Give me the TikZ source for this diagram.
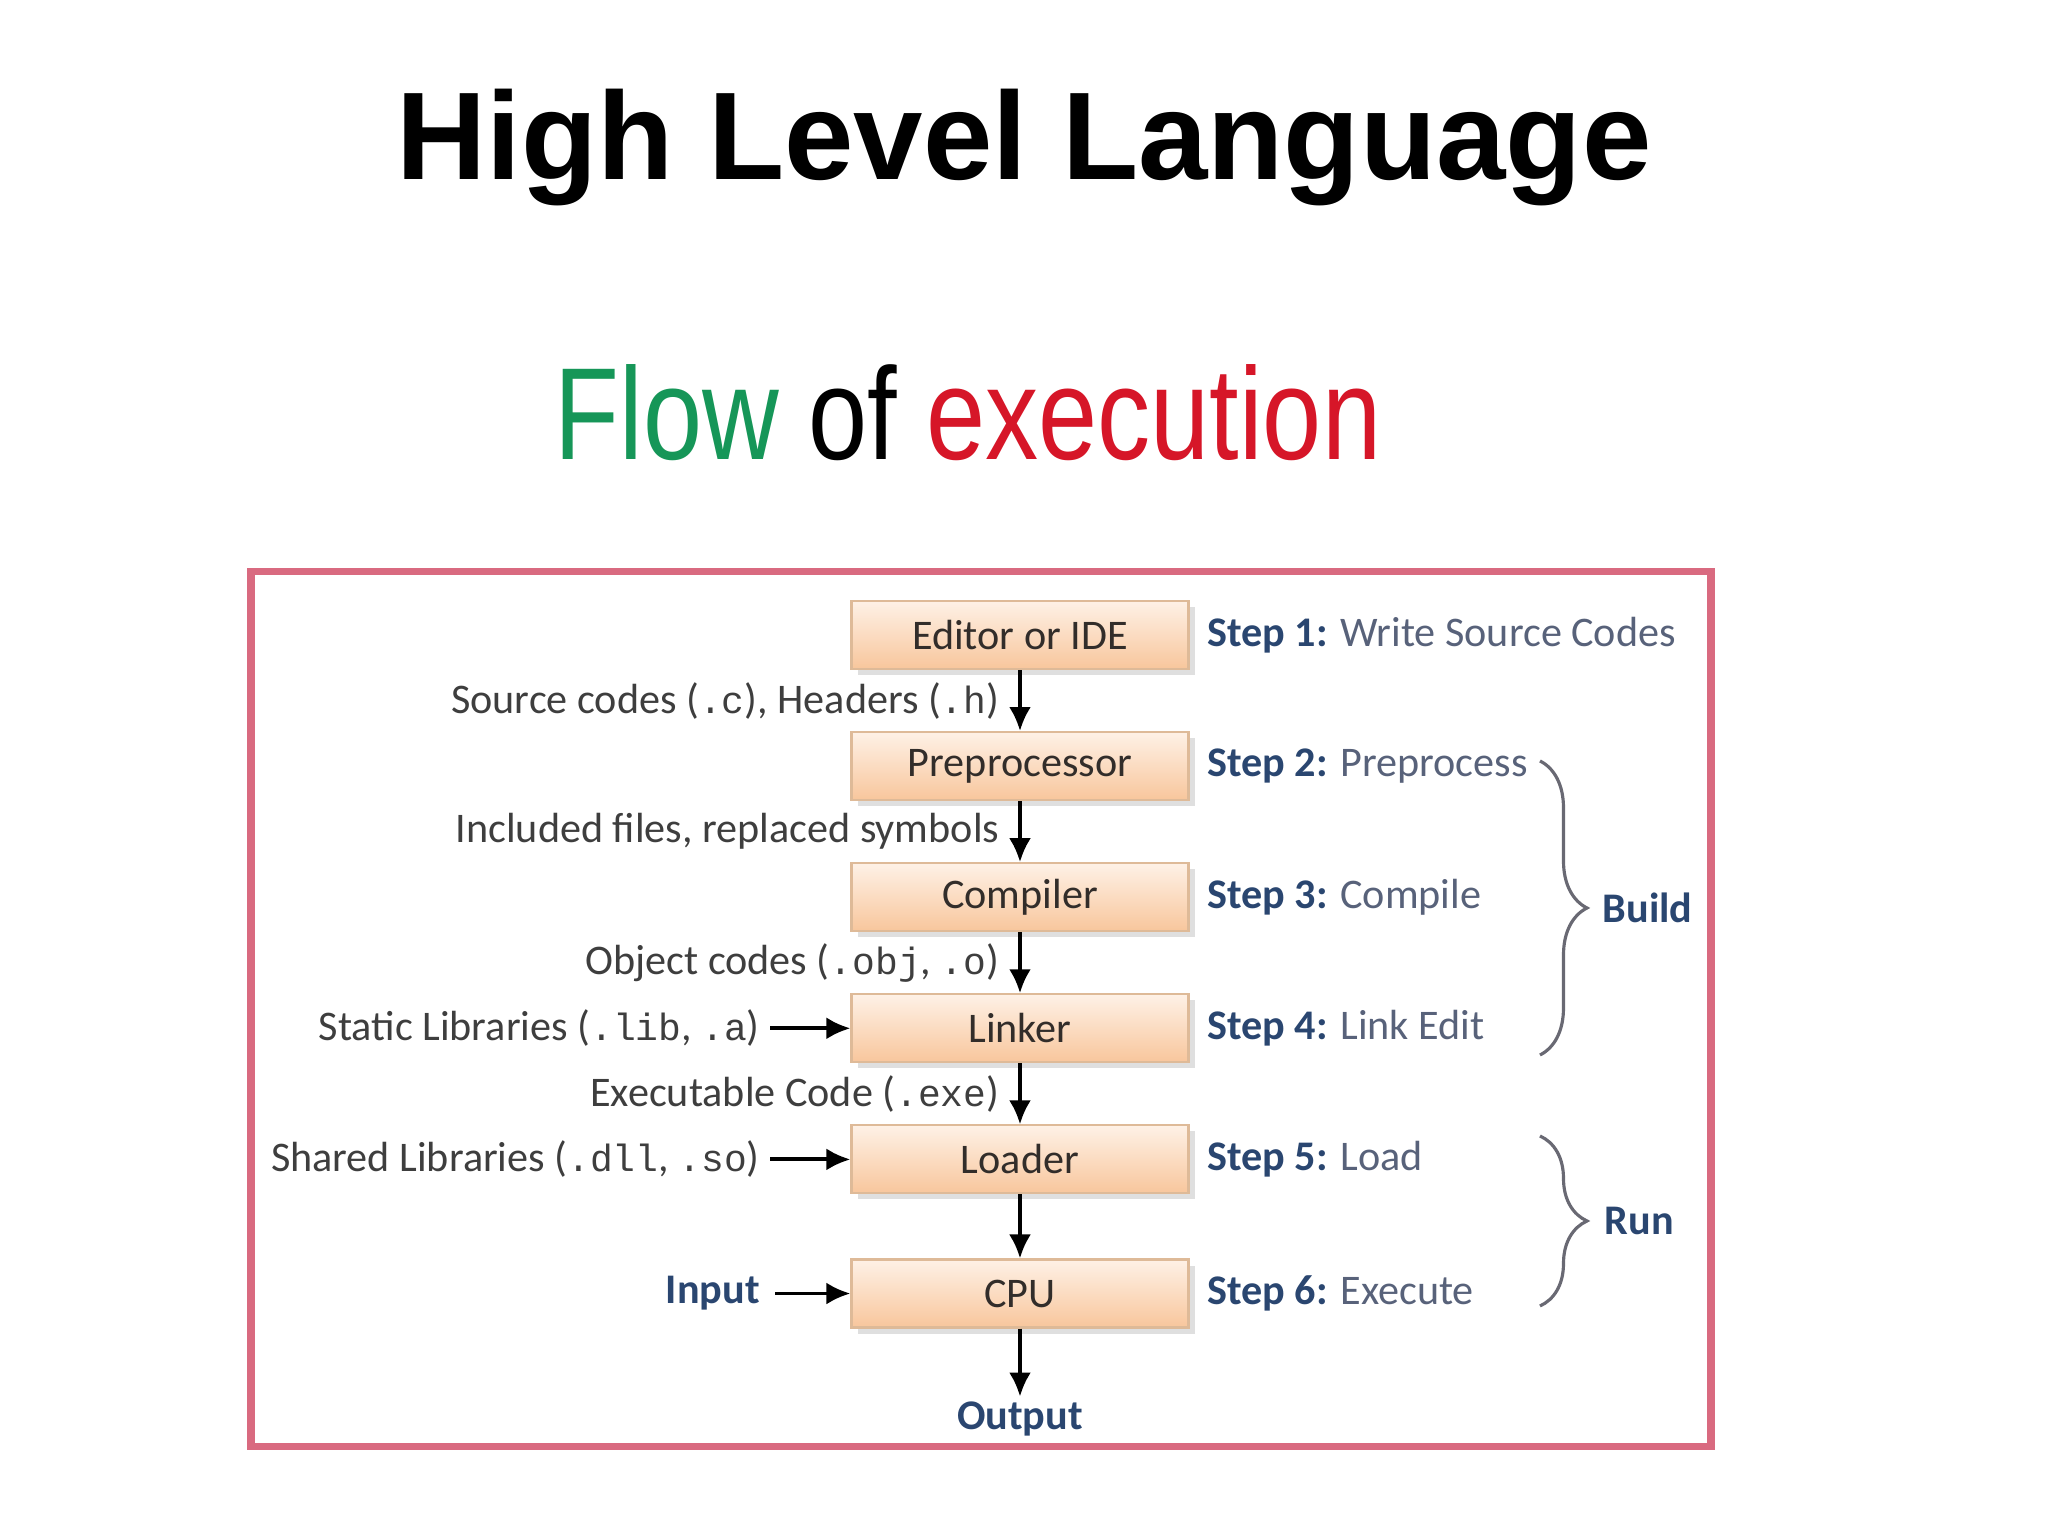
\documentclass[tikz,border=0pt]{standalone}
\usepackage{fontspec}
\setmainfont{Carlito}
\newfontfamily\headfont{Liberation Sans}
\newfontfamily\narrowfont[FakeStretch=0.81]{Liberation Sans}
\newfontfamily\extfont[Scale=0.9]{Liberation Mono}
\usetikzlibrary{positioning,arrows.meta,calc,shadows,decorations.pathreplacing}
\definecolor{feFrame}{RGB}{217,106,128}
\definecolor{feGreen}{RGB}{22,150,88}
\definecolor{feCrimson}{RGB}{214,22,40}
\definecolor{feTop}{RGB}{254,241,230}
\definecolor{feBottom}{RGB}{248,198,156}
\definecolor{feTan}{RGB}{222,186,152}
\definecolor{feText}{RGB}{50,45,42}
\definecolor{feGray}{RGB}{62,62,62}
\definecolor{feNavy}{RGB}{42,70,112}
\definecolor{feSlate}{RGB}{88,98,122}
\definecolor{feBrace}{RGB}{105,105,115}
\newcommand{\ext}[1]{{\extfont #1}}
\newcommand{\stepno}[1]{{\bfseries\color{feNavy}Step #1:}}
\tikzset{
    base/.style={font=\fontsize{12}{14}\selectfont, inner sep=0pt},
    stage/.style={base, rectangle, draw=feTan, line width=0.6pt,
                  top color=feTop, bottom color=feBottom, text=feText,
                  minimum width=3.37cm, minimum height=0.68cm,
                  drop shadow={opacity=0.25, shadow xshift=0.6mm, shadow yshift=-0.6mm}},
    note/.style={base, text=feGray},
    stepnote/.style={base, text=feSlate},
    tag/.style={base, font=\fontsize{12}{14}\selectfont\bfseries, text=feNavy, inner sep=0.5mm},
    flow/.style={-{Latex[length=2.4mm,width=2.2mm]}, line width=1.1pt, color=black},
    feed/.style={flow, shorten <=1mm},
    curly/.style={decorate, decoration={brace, amplitude=0.47cm}, line width=0.9pt, color=feBrace},
    frame/.style={draw=feFrame, line width=2pt}
}

\begin{document}
\begin{tikzpicture}
  \useasboundingbox (0,0) rectangle (20.48,15.36);

  % Headings
  \node[anchor=base, font=\headfont\bfseries\fontsize{35.5}{40}\selectfont] (title) at (10.24,13.56) {High Level Language};
  \node[anchor=base, font=\narrowfont\fontsize{37.3}{42}\selectfont] (sub) at (9.68,10.76)
    {\textcolor{feGreen}{Flow} of \textcolor{feCrimson}{execution}};

  % Frame
  \draw[frame] (2.51,0.89) rectangle (17.11,9.64);

  % Stages
  \node[stage] (edit) at (10.20,9.01) {Editor or IDE};
  \node[stage, below=0.61cm of edit] (prep) {Preprocessor};
  \node[stage, below=0.61cm of prep] (comp) {Compiler};
  \node[stage, below=0.61cm of comp] (link) {Linker};
  \node[stage, below=0.61cm of link] (load) {Loader};
  \node[stage, below=0.64cm of load] (cpu) {CPU};
  \node[tag, below=0.68cm of cpu] (out) {Output};

  % Main flow
  \draw[flow] (edit) -- (prep);
  \draw[flow] (prep) -- (comp);
  \draw[flow] (comp) -- (link);
  \draw[flow] (link) -- (load);
  \draw[flow] (load) -- (cpu);
  \draw[flow] (cpu) -- (out);

  % What passes between stages
  \node[note, anchor=east] (src) at ($(edit.south)!0.5!(prep.north)+(-0.2,0)$)
    {Source codes (\ext{.c}), Headers (\ext{.h})};
  \node[note, anchor=east] (inc) at ($(prep.south)!0.5!(comp.north)+(-0.2,0)$)
    {Included files, replaced symbols};
  \node[note, anchor=east] (obj) at ($(comp.south)!0.5!(link.north)+(-0.2,0)$)
    {Object codes (\ext{.obj}, \ext{.o})};
  \node[note, anchor=east] (exe) at ($(link.south)!0.5!(load.north)+(-0.2,0)$)
    {Executable Code (\ext{.exe})};

  % Side inputs
  \node[note, left=0.9cm of link] (stat) {Static Libraries (\ext{.lib}, \ext{.a})};
  \node[note, left=0.9cm of load] (shar) {Shared Libraries (\ext{.dll}, \ext{.so})};
  \node[tag, left=0.85cm of cpu] (in) {Input};
  \draw[feed] (stat) -- (link);
  \draw[feed] (shar) -- (load);
  \draw[feed] (in) -- (cpu);

  % Steps
  \node[stepnote, right=0.17cm of edit] (s1) {\stepno{1} Write Source Codes};
  \node[stepnote, right=0.17cm of prep] (s2) {\stepno{2} Preprocess};
  \node[stepnote, right=0.17cm of comp] (s3) {\stepno{3} Compile};
  \node[stepnote, right=0.17cm of link] (s4) {\stepno{4} Link Edit};
  \node[stepnote, right=0.17cm of load] (s5) {\stepno{5} Load};
  \node[stepnote, right=0.17cm of cpu] (s6) {\stepno{6} Execute};

  % Braces
  \coordinate (bTop) at (15.40,7.75);
  \coordinate (bBot) at (15.40,4.81);
  \coordinate (rTop) at (15.40,4.00);
  \coordinate (rBot) at (15.40,2.30);
  \draw[curly] (bTop) -- (bBot);
  \draw[curly] (rTop) -- (rBot);
  \node[tag, anchor=west] (build) at ($(bTop)!0.5!(bBot)+(0.57,0)$) {Build};
  \node[tag, anchor=west] (run) at ($(rTop)!0.5!(rBot)+(0.59,0)$) {Run};
\end{tikzpicture}
\end{document}
